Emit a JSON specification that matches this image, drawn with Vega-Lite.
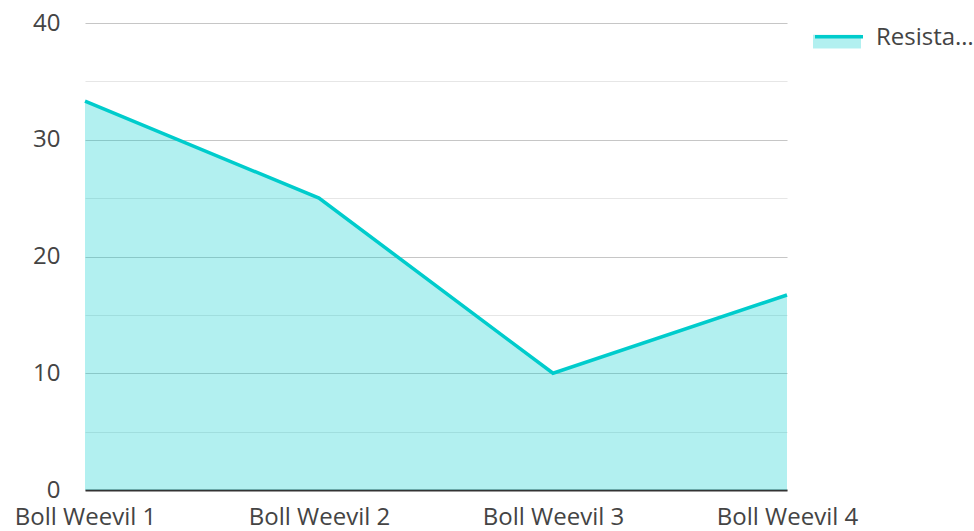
{
  "$schema": "https://vega.github.io/schema/vega-lite/v6.json",
  "width": 702,
  "height": 467,
  "autosize": {"type": "none"},
  "padding": {"left": 85, "top": 23, "right": 187, "bottom": 41},
  "background": "white",
  "config": {
    "view": {"stroke": null},
    "font": "Open Sans"
  },
  "data": {
    "values": [
      {"name": "Boll Weevil 1", "value": 33.3, "series": "Resistance"},
      {"name": "Boll Weevil 2", "value": 25.0, "series": "Resistance"},
      {"name": "Boll Weevil 3", "value": 10.0, "series": "Resistance"},
      {"name": "Boll Weevil 4", "value": 16.7, "series": "Resistance"}
    ]
  },
  "encoding": {
    "x": {
      "field": "name",
      "type": "ordinal",
      "scale": {"type": "point", "padding": 0},
      "axis": {
        "title": null,
        "labelAngle": 0,
        "labelFontSize": 24,
        "labelColor": "#444444",
        "labelPadding": 15,
        "ticks": false,
        "domainColor": "#333333",
        "domainWidth": 2,
        "grid": false,
        "labelFlush": false,
        "labelOverlap": false,
        "labelBound": false
      }
    },
    "y": {
      "field": "value",
      "type": "quantitative",
      "scale": {"domain": [0, 40], "nice": false},
      "axis": {
        "title": null,
        "values": [0, 5, 10, 15, 20, 25, 30, 35, 40],
        "labelExpr": "datum.value % 10 === 0 ? datum.label : ''",
        "labelFontSize": 24,
        "labelColor": "#444444",
        "labelPadding": 25,
        "ticks": false,
        "domain": false,
        "grid": true,
        "gridColor": {"condition": {"test": "datum.value % 10 === 0", "value": "#c6c6c6"}, "value": "#e6e6e6"},
        "gridWidth": 1.2
      }
    }
  },
  "layer": [
    {
      "mark": {"type": "area", "opacity": 0.3},
      "encoding": {
        "fill": {
          "field": "series",
          "type": "nominal",
          "scale": {"range": ["#00cccc"]},
          "legend": {
            "title": null,
            "orient": "none",
            "legendX": 728,
            "legendY": -11,
            "padding": 0,
            "symbolType": "M-1,-0.05H1V0.52H-1Z",
            "symbolSize": 2304,
            "symbolOpacity": 0.3,
            "symbolStrokeWidth": 0,
            "labelFontSize": 24,
            "labelColor": "#444444",
            "labelOffset": 11,
            "labelLimit": 100,
            "labelOpacity": 0
          }
        }
      }
    },
    {
      "mark": {"type": "line", "strokeWidth": 3.5},
      "encoding": {
        "stroke": {
          "field": "series",
          "type": "nominal",
          "scale": {"range": ["#00cccc"]},
          "legend": {
            "title": null,
            "orient": "none",
            "legendX": 728,
            "legendY": -11,
            "padding": 0,
            "symbolType": "M-1,-0.05H1",
            "symbolSize": 2304,
            "symbolStrokeWidth": 3.5,
            "labelFontSize": 24,
            "labelColor": "#444444",
            "labelOffset": 11,
            "labelLimit": 100
          }
        }
      }
    }
  ],
  "resolve": {"scale": {"fill": "independent", "stroke": "independent"}, "legend": {"fill": "independent", "stroke": "independent"}}
}
